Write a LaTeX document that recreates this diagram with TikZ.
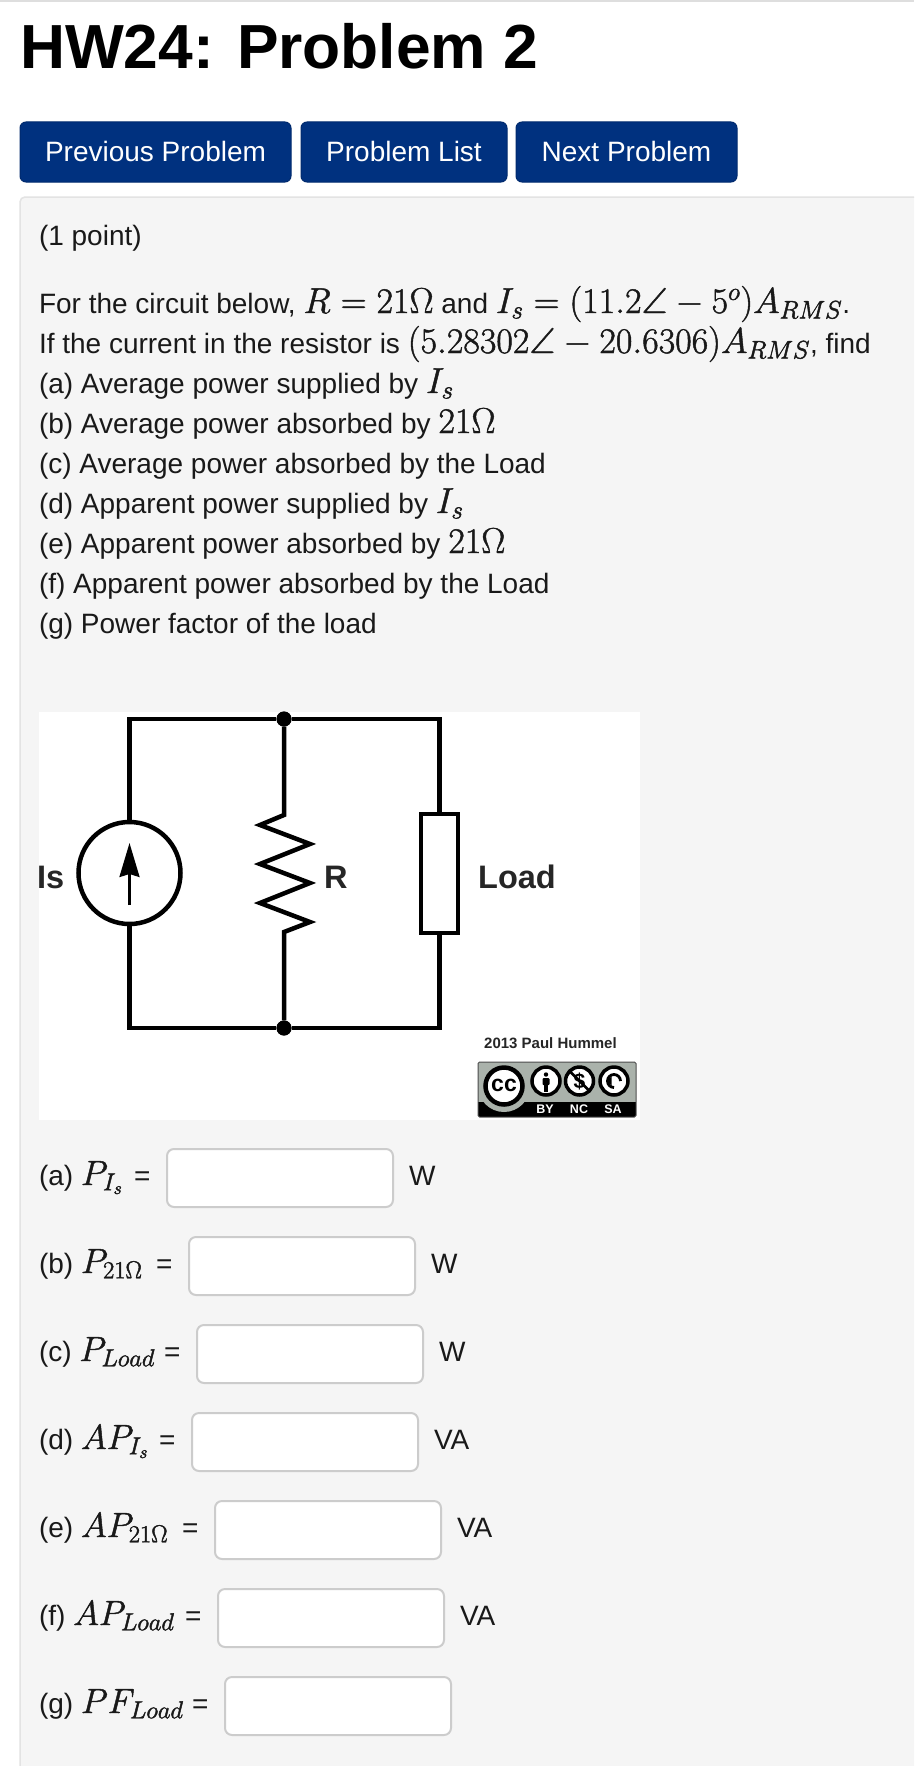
\RequirePackage{fix-cm}
\documentclass[tikz,border=0pt]{standalone}
\usepackage{amssymb}
\usepackage[no-math]{fontspec}
\setmainfont{Liberation Sans}
\usetikzlibrary{arrows.meta}
\definecolor{btnblue}{HTML}{00317F}
\definecolor{btnedge}{HTML}{002A6E}
\definecolor{panelbg}{HTML}{F5F5F5}
\definecolor{paneledge}{HTML}{E3E3E3}
\definecolor{inputedge}{HTML}{CCCCCC}
\definecolor{ccgray}{HTML}{AAB2AB}
\newcommand{\mth}[1]{{\fontsize{36}{40}\selectfont\special{pdf:code 2 Tr 0.45 w}$#1$\special{pdf:code 0 Tr}}}
\newcommand{\mthr}[1]{{\fontsize{35}{40}\selectfont\special{pdf:code 2 Tr 0.45 w}$#1$\special{pdf:code 0 Tr}}}
\tikzset{
  txt/.style={anchor=base west,inner sep=0pt,outer sep=0pt,font=\fontsize{28}{34}\selectfont,text=black!90},
  btn/.style={draw=btnedge,fill=btnblue,rounded corners=6pt,line width=1pt},
  btntxt/.style={inner sep=0pt,font=\fontsize{28}{34}\selectfont,text=white},
  inbox/.style={draw=inputedge,fill=white,line width=2pt,rounded corners=7pt,minimum width=226pt,minimum height=58pt,anchor=north west,inner sep=0pt},
  wire/.style={line width=4.5pt,black,line join=miter},
  jdot/.style={circle,fill=black,minimum size=15pt,inner sep=0pt},
  clabel/.style={anchor=base west,inner sep=0pt,font=\fontsize{32.5}{36}\selectfont\bfseries,text=black!85},
  iconring/.style={circle,draw=black,fill=white,line width=3.5pt,minimum size=28pt,inner sep=0pt},
  cctxt/.style={inner sep=0pt,text=white,font=\fontsize{12.5}{14}\selectfont\bfseries},
}
\begin{document}
\begin{tikzpicture}[x=1pt,y=-1pt]
\useasboundingbox (0,0) rectangle (914,1766);
\clip (0,0) rectangle (914,1766);
\fill[white] (0,0) rectangle (914,1766);
\fill[black!13] (0,0) rectangle (914,2);
% title
\node[anchor=base west,inner sep=0pt,font=\fontsize{62.3}{70}\selectfont\bfseries] (title) at (20,69) {HW24: Problem 2};
% buttons
\draw[btn] (20,122) rectangle (291,182);
\node[btntxt] (b1) at (155.5,151) {Previous Problem};
\draw[btn] (301,122) rectangle (507,182);
\node[btntxt] (b2) at (404,151) {Problem List};
\draw[btn] (516,122) rectangle (737,182);
\node[btntxt] (b3) at (626.5,151) {Next Problem};
% panel
\draw[draw=paneledge,fill=panelbg,line width=1.5pt,rounded corners=5pt] (20,1800) -- (20,197) -- (950,197) -- (950,1800);
% problem text
\node[txt] (t0) at (39,245) {(1 point)};
\node[txt] (t1) at (39,313) {For the circuit below, \mth{R=21\Omega} and \mth{I_s=(11.2\angle-5^o)A_{RMS}}.};
\node[txt] (t2) at (39,353) {If the current in the resistor is \mth{(5.28302\angle-20.6306)A_{RMS}}, find};
\node[txt] (t3) at (39,393) {(a) Average power supplied by \mth{I_s}};
\node[txt] (t4) at (39,433) {(b) Average power absorbed by \mth{21\Omega}};
\node[txt] (t5) at (39,473) {(c) Average power absorbed by the Load};
\node[txt] (t6) at (39,513) {(d) Apparent power supplied by \mth{I_s}};
\node[txt] (t7) at (39,553) {(e) Apparent power absorbed by \mth{21\Omega}};
\node[txt] (t8) at (39,593) {(f) Apparent power absorbed by the Load};
\node[txt] (t9) at (39,633) {(g) Power factor of the load};
% image
\fill[white] (39,712) rectangle (639.5,1120);
\node[jdot] (top) at (284,719) {};
\node[jdot] (bot) at (284,1028) {};
\node[circle,draw=black,fill=white,line width=4.5pt,minimum size=102pt,inner sep=0pt] (src) at (129.5,873) {};
\node[rectangle,draw=black,fill=white,line width=4pt,minimum width=37pt,minimum height=119pt,inner sep=0pt] (load) at (439.5,873.5) {};
\coordinate (rt) at (284,815);
\coordinate (rb) at (284,932);
\draw[wire] (src.north) |- (top);
\draw[wire] (top) -| (load.north);
\draw[wire] (src.south) |- (bot);
\draw[wire] (bot) -| (load.south);
\draw[wire] (top) -- (rt) -- (260,825) -- (310,844) -- (260,864) -- (310,883) -- (260,903) -- (310,922) -- (rb) -- (bot);
\node[jdot] at (top) {};
\node[jdot] at (bot) {};
\coordinate (at) at (129.5,905);
\coordinate (ah) at (129.5,843);
\draw[line width=2.5pt,-{Stealth[length=34pt,width=20pt,inset=3pt]}] (at) -- (ah);
\begin{scope}
\clip (39,712) rectangle (639,1120);
\node[clabel] (is) at (37,888) {Is};
\end{scope}
\node[clabel] (r) at (324,888) {R};
\node[clabel] (ld) at (478,888) {Load};
\node[anchor=base west,inner sep=0pt,font=\fontsize{15}{18}\selectfont\bfseries,text=black!85] (cr) at (484,1048) {2013 Paul Hummel};
% cc badge
\begin{scope}
\clip[rounded corners=1.5pt] (478,1062) rectangle (636,1117);
\fill[ccgray] (478,1062) rectangle (636,1102);
\fill[black] (478,1102) rectangle (636,1117);
\fill[ccgray] (504,1086) circle (26);
\end{scope}
\draw[black!70,line width=1pt,rounded corners=1.5pt] (478,1062) rectangle (636,1117);
\node[circle,draw=black,fill=white,line width=4.5pt,minimum size=37pt,inner sep=0pt,font=\fontsize{23}{24}\selectfont\bfseries] (cc) at (504,1086) {\raisebox{2pt}{cc}};
\node[iconring] (by) at (546,1081) {};
\node[iconring] (nc) at (579.5,1081) {\fontsize{21}{22}\selectfont\bfseries\$};
\node[iconring] (sa) at (614,1081) {};
\fill[black] (546,1074.5) circle (2.2);
\fill[black,rounded corners=1pt] (542.5,1078) rectangle (549.5,1085);
\fill[black] (544,1084) rectangle (548,1092);
\draw[black,line width=2.5pt] (569.5,1071) -- (589.5,1091);
\draw[black,line width=2.8pt] (620.5,1081) arc[start angle=0,end angle=-270,radius=6.5];
\fill[black] (606,1081) -- (611.5,1076.5) -- (611.5,1085.5) -- cycle;
\node[cctxt] (lby) at (545,1109) {BY};
\node[cctxt] (lnc) at (579,1109) {NC};
\node[cctxt] (lsa) at (613,1109) {SA};
% answer rows
\node[inbox] (ia) at (166,1148) {};
\node[inbox] (ib) at (188,1236) {};
\node[inbox] (ic) at (196,1324) {};
\node[inbox] (id) at (191,1412) {};
\node[inbox] (ie) at (214,1500) {};
\node[inbox] (if) at (217,1588) {};
\node[inbox] (ig) at (224,1676) {};
\node[txt] (la) at (39,1185) {(a) \mthr{P_{I_s}}};
\node[txt] (ea) at (134,1185) {=};
\node[txt] (ua) at (409,1185) {W};
\node[txt] (lb) at (39,1273) {(b) \mthr{P_{21\Omega}}};
\node[txt] (eb) at (156,1273) {=};
\node[txt] (ub) at (431,1273) {W};
\node[txt] (lc) at (39,1361) {(c) \mthr{P_{Load}}};
\node[txt] (ec) at (164,1361) {=};
\node[txt] (uc) at (439,1361) {W};
\node[txt] (ld2) at (39,1449) {(d) \mthr{AP_{I_s}}};
\node[txt] (ed) at (159,1449) {=};
\node[txt] (ud) at (434,1449) {VA};
\node[txt] (le) at (39,1537) {(e) \mthr{AP_{21\Omega}}};
\node[txt] (ee) at (182,1537) {=};
\node[txt] (ue) at (457,1537) {VA};
\node[txt] (lf) at (39,1625) {(f) \mthr{AP_{Load}}};
\node[txt] (ef) at (185,1625) {=};
\node[txt] (uf) at (460,1625) {VA};
\node[txt] (lg) at (39,1713) {(g) \mthr{PF_{Load}}};
\node[txt] (eg) at (192,1713) {=};
\end{tikzpicture}
\end{document}
